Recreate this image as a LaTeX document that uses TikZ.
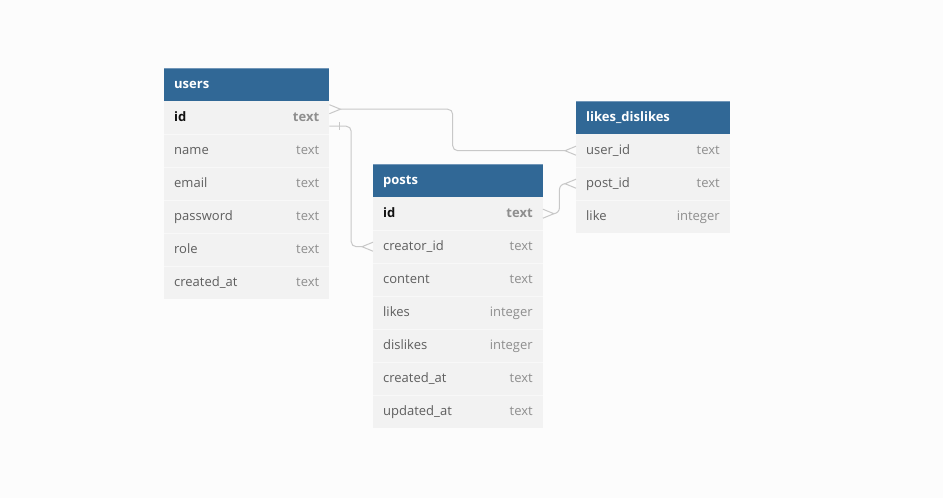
\documentclass[tikz,border=0pt]{standalone}
\usepackage{fontspec}
\setmainfont{Open Sans}
\usetikzlibrary{calc}
\definecolor{bgc}{HTML}{FCFCFC}
\definecolor{hdr}{HTML}{316896}
\definecolor{hdrtop}{HTML}{7196B8}
\definecolor{rowc}{HTML}{F2F2F2}
\definecolor{rowsep}{HTML}{F8F8F8}
\definecolor{fnamec}{HTML}{5E5E5E}
\definecolor{ftypec}{HTML}{8E8E8E}
\definecolor{idc}{HTML}{111111}
\definecolor{connc}{HTML}{C8C8C8}
\tikzset{
  hdrbox/.style={fill=hdr, draw=none, anchor=north west, minimum height=33, inner sep=0},
  rowbox/.style={fill=rowc, draw=none, anchor=north west, minimum height=33, inner sep=0},
  htext/.style={anchor=base west, inner sep=0, text=white, font=\fontsize{13}{15}\selectfont\bfseries},
  fname/.style={anchor=base west, inner sep=0, text=fnamec, font=\fontsize{13}{15}\selectfont},
  ftype/.style={anchor=base east, inner sep=0, text=ftypec, font=\fontsize{13}{15}\selectfont},
  idname/.style={anchor=base west, inner sep=0, text=idc, font=\fontsize{13}{15}\selectfont\bfseries},
  idtype/.style={anchor=base east, inner sep=0, text=ftypec, font=\fontsize{13}{15}\selectfont\bfseries},
  sepline/.style={draw=rowsep, line width=1},
  topline/.style={draw=hdrtop, line width=1},
  conn/.style={draw=connc, line width=1},
}
\begin{document}
\begin{tikzpicture}[x=1pt,y=-1pt]
\fill[bgc] (0,0) rectangle (943,498);
\useasboundingbox (0,0) rectangle (943,498);

% ---------- users ----------
\node[hdrbox, minimum width=165] (users) at (164,68) {};
\draw[topline] (users.north west) -- (users.north east);
\node[htext] at ($(users.west)+(10,3.5)$) {users};
\node[rowbox, minimum width=165] (users-id) at (164,101) {};
\node[idname] at ($(users-id.west)+(10,3.5)$) {id};
\node[idtype] at ($(users-id.east)+(-10,3.5)$) {text};
\foreach \k/\n/\t [count=\i] in {name/name/text, email/email/text, password/password/text, role/role/text, created/created\_at/text}{
  \node[rowbox, minimum width=165] (users-\k) at (164,{101+33*\i}) {};
  \draw[sepline] ($(users-\k.north west)+(0,0.5)$) -- ($(users-\k.north east)+(0,0.5)$);
  \node[fname] at ($(users-\k.west)+(10,3.5)$) {\n};
  \node[ftype] at ($(users-\k.east)+(-10,3.5)$) {\t};
}

% ---------- posts ----------
\node[hdrbox, minimum width=169.5] (posts) at (373,164) {};
\draw[topline] (posts.north west) -- (posts.north east);
\node[htext] at ($(posts.west)+(10,3.5)$) {posts};
\node[rowbox, minimum width=169.5] (posts-id) at (373,197) {};
\node[idname] at ($(posts-id.west)+(10,3.5)$) {id};
\node[idtype] at ($(posts-id.east)+(-10,3.5)$) {text};
\foreach \k/\n/\t [count=\i] in {creator/creator\_id/text, content/content/text, likes/likes/integer, dislikes/dislikes/integer, created/created\_at/text, updated/updated\_at/text}{
  \node[rowbox, minimum width=169.5] (posts-\k) at (373,{197+33*\i}) {};
  \draw[sepline] ($(posts-\k.north west)+(0,0.5)$) -- ($(posts-\k.north east)+(0,0.5)$);
  \node[fname] at ($(posts-\k.west)+(10,3.5)$) {\n};
  \node[ftype] at ($(posts-\k.east)+(-10,3.5)$) {\t};
}

% ---------- likes_dislikes ----------
\node[hdrbox, minimum width=153.5] (ld) at (576,101) {};
\draw[topline] (ld.north west) -- (ld.north east);
\node[htext] at ($(ld.west)+(10,3.5)$) {likes\_dislikes};
\foreach \k/\n/\t [count=\i from 0] in {user/user\_id/text, post/post\_id/text, like/like/integer}{
  \node[rowbox, minimum width=153.5] (ld-\k) at (576,{134+33*\i}) {};
  \node[fname] at ($(ld-\k.west)+(10,3.5)$) {\n};
  \node[ftype] at ($(ld-\k.east)+(-10,3.5)$) {\t};
}
\draw[sepline] ($(ld-post.north west)+(0,0.5)$) -- ($(ld-post.north east)+(0,0.5)$);
\draw[sepline] ($(ld-like.north west)+(0,0.5)$) -- ($(ld-like.north east)+(0,0.5)$);

% ---------- connectors ----------
% users.id -> likes_dislikes.user_id
\coordinate (a1) at ($(users-id.east)+(0,-8.5)$);
\coordinate (b1) at (ld-user.west);
\draw[conn] ($(a1)+(0,-4.5)$) -- ($(a1)+(11,0)$) -- ($(a1)+(0,4.5)$);
\draw[conn, rounded corners=5] ($(a1)+(11,0)$) -| ($(a1)!.5!(b1)$) |- ($(b1)+(-11,0)$);
\draw[conn] ($(b1)+(0,-4.5)$) -- ($(b1)+(-11,0)$) -- ($(b1)+(0,4.5)$);

% users.id -> posts.creator_id
\coordinate (a2) at ($(users-id.east)+(0,8.5)$);
\coordinate (b2) at (posts-creator.west);
\draw[conn, rounded corners=5] (a2) -| ($(a2)!.5!(b2)$) |- ($(b2)+(-11,0)$);
\draw[conn] ($(a2)+(10,-4)$) -- ($(a2)+(10,4)$);
\draw[conn] ($(b2)+(0,-4.5)$) -- ($(b2)+(-11,0)$) -- ($(b2)+(0,4.5)$);

% posts.id -> likes_dislikes.post_id
\coordinate (a3) at (posts-id.east);
\coordinate (b3) at (ld-post.west);
\draw[conn] ($(a3)+(0,-4.5)$) -- ($(a3)+(11,0)$) -- ($(a3)+(0,4.5)$);
\draw[conn, rounded corners=6] ($(a3)+(11,0)$) -| ($(a3)!.5!(b3)$) |- ($(b3)+(-11,0)$);
\draw[conn] ($(b3)+(0,-4.5)$) -- ($(b3)+(-11,0)$) -- ($(b3)+(0,4.5)$);
\end{tikzpicture}
\end{document}
